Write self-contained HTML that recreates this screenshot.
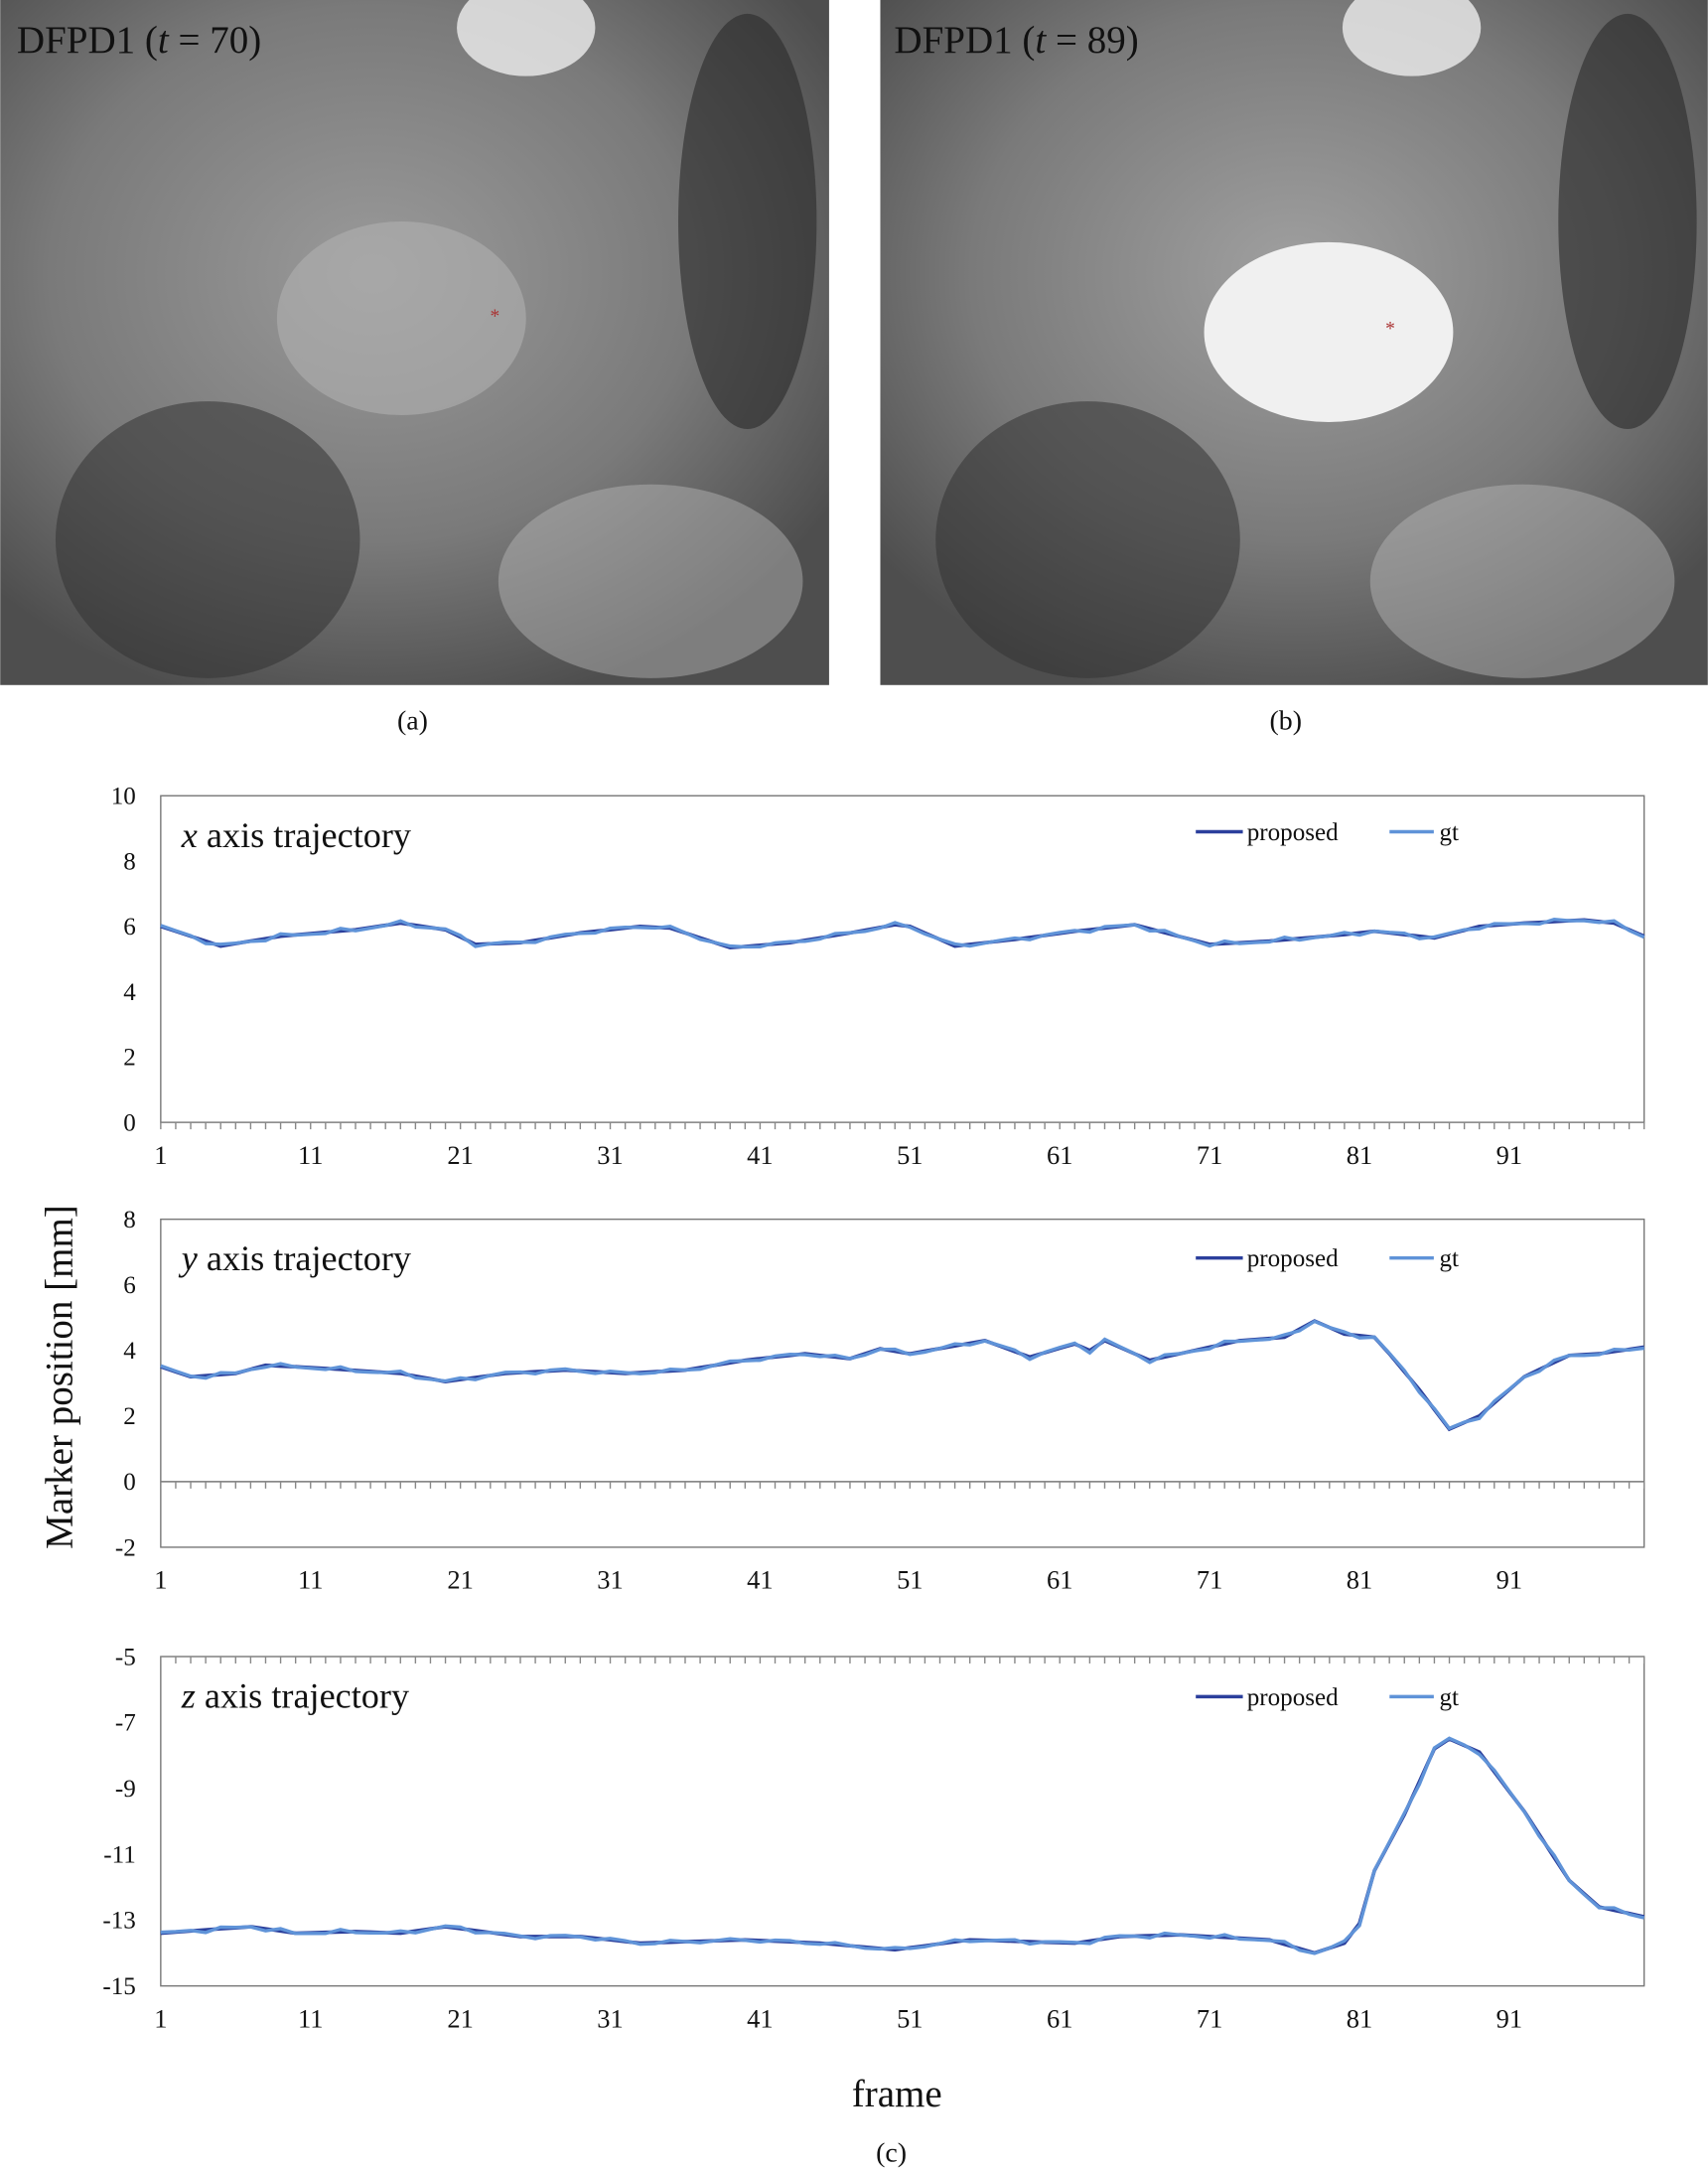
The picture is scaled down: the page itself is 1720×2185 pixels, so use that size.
<!DOCTYPE html>
<html><head><meta charset="utf-8"><style>
html,body{margin:0;padding:0;background:#fff;}
svg{display:block;}
text{font-family:"Liberation Serif",serif;fill:#111;}
</style></head><body>
<svg id="s" width="1720" height="2185" viewBox="0 0 1234 1568" xmlns="http://www.w3.org/2000/svg">
<defs>
<radialGradient id="ga" cx="0.45" cy="0.4" r="0.65"><stop offset="0" stop-color="#9a9a9a"/><stop offset="0.6" stop-color="#7a7a7a"/><stop offset="1" stop-color="#4e4e4e"/></radialGradient>
<radialGradient id="gb" cx="0.5" cy="0.4" r="0.65"><stop offset="0" stop-color="#a0a0a0"/><stop offset="0.6" stop-color="#7a7a7a"/><stop offset="1" stop-color="#4e4e4e"/></radialGradient>
</defs>
<g id="imgs">
<rect x="0" y="0" width="599" height="495" fill="url(#ga)"/>
<ellipse cx="150" cy="390" rx="110" ry="100" fill="#333" opacity="0.55"/>
<ellipse cx="540" cy="160" rx="50" ry="150" fill="#2a2a2a" opacity="0.6"/>
<ellipse cx="290" cy="230" rx="90" ry="70" fill="#b0b0b0" opacity="0.6"/>
<ellipse cx="380" cy="20" rx="50" ry="35" fill="#eee" opacity="0.8"/>
<ellipse cx="470" cy="420" rx="110" ry="70" fill="#bbb" opacity="0.45"/>
<rect x="636" y="0" width="598" height="495" fill="url(#gb)"/>
<ellipse cx="786" cy="390" rx="110" ry="100" fill="#333" opacity="0.55"/>
<ellipse cx="1176" cy="160" rx="50" ry="150" fill="#2a2a2a" opacity="0.6"/>
<ellipse cx="960" cy="240" rx="90" ry="65" fill="#f0f0f0"/>
<ellipse cx="1020" cy="20" rx="50" ry="35" fill="#eee" opacity="0.8"/>
<ellipse cx="1100" cy="420" rx="110" ry="70" fill="#bbb" opacity="0.45"/>
<text x="354" y="233" font-size="14" style="fill:#a33">*</text>
<text x="1001" y="242" font-size="14" style="fill:#a33">*</text>
<text x="12" y="38" font-size="28">DFPD1 (<tspan font-style="italic">t</tspan> = 70)</text>
<text x="646" y="38" font-size="28">DFPD1 (<tspan font-style="italic">t</tspan> = 89)</text>
</g>
<text x="298" y="527" font-size="20" text-anchor="middle">(a)</text>
<text x="929" y="527" font-size="20" text-anchor="middle">(b)</text>
<text transform="translate(52,995) rotate(-90)" font-size="28" text-anchor="middle">Marker position [mm]</text>
<text x="648" y="1522" font-size="28" text-anchor="middle">frame</text>
<text x="644" y="1562" font-size="20" text-anchor="middle">(c)</text>
<g id="charts"></g>
</svg>
<script>
const NS="http://www.w3.org/2000/svg";
const G=document.getElementById('charts');
function el(t,a,txt){const e=document.createElementNS(NS,t);for(const k in a)e.setAttribute(k,a[k]);if(txt!==undefined)e.textContent=txt;G.appendChild(e);return e;}
function interp(k){const o=[];for(let f=1;f<=100;f++){for(let i=0;i<k.length-1;i++){if(f>=k[i][0]&&f<=k[i+1][0]){const t=(f-k[i][0])/(k[i+1][0]-k[i][0]);o.push(k[i][1]+t*(k[i+1][1]-k[i][1]));break;}}}return o;}
const X0=116,X1=1188,fx=f=>X0+(f-1)*(X1-X0)/99;
const charts=[
{top:575,bot:811,min:0,max:10,step:2,lab:'x',legY:601,zero:null,
k:[[1,6],[5,5.4],[9,5.7],[14,5.9],[17,6.1],[20,5.9],[22,5.45],[25,5.5],[29,5.8],[33,6.0],[35,5.95],[39,5.35],[43,5.5],[47,5.8],[50,6.05],[51,6.0],[54,5.4],[58,5.6],[62,5.85],[66,6.05],[71,5.45],[75,5.55],[80,5.75],[82,5.85],[86,5.65],[89,6.0],[92,6.1],[96,6.2],[98,6.1],[100,5.7]]},
{top:881,bot:1118,min:-2,max:8,step:2,lab:'y',legY:909,zero:0,
k:[[1,3.5],[3,3.2],[6,3.3],[8,3.55],[12,3.45],[17,3.3],[20,3.05],[24,3.3],[28,3.4],[32,3.3],[36,3.4],[40,3.7],[44,3.9],[47,3.75],[49,4.05],[51,3.9],[56,4.3],[59,3.8],[62,4.2],[63,4.0],[64,4.3],[67,3.7],[70,4.0],[73,4.3],[76,4.4],[78,4.9],[80,4.5],[82,4.4],[83,3.9],[85,2.8],[87,1.6],[89,2.0],[92,3.2],[95,3.85],[97,3.9],[100,4.1]]},
{top:1197,bot:1435,min:-15,max:-5,step:2,lab:'z',legY:1226,zero:null,
k:[[1,-13.4],[4,-13.3],[7,-13.2],[10,-13.4],[14,-13.35],[17,-13.4],[20,-13.2],[25,-13.5],[29,-13.5],[33,-13.7],[40,-13.6],[45,-13.7],[50,-13.9],[55,-13.6],[62,-13.7],[65,-13.5],[69,-13.45],[75,-13.6],[78,-14.0],[80,-13.7],[81,-13.1],[82,-11.5],[84,-9.8],[86,-7.8],[87,-7.5],[89,-7.9],[92,-9.7],[95,-11.8],[97,-12.6],[100,-12.9]]}
];
charts.forEach(c=>{
 const fy=v=>c.bot-(v-c.min)*(c.bot-c.top)/(c.max-c.min);
 el('rect',{x:X0,y:c.top,width:X1-X0,height:c.bot-c.top,fill:'none',stroke:'#777','stroke-width':1});
 for(let v=c.min;v<=c.max;v+=c.step){el('text',{x:98,y:fy(v)+6,'font-size':18,'text-anchor':'end'},String(v));}
 const ay=c.zero!==null?fy(c.zero):(c.lab==='z'?c.top:c.bot);
 if(c.zero!==null)el('line',{x1:X0,x2:X1,y1:ay,y2:ay,stroke:'#777'});
 for(let f=1;f<=100;f++){const x=fx(f);el('line',{x1:x,x2:x,y1:ay,y2:ay+(c.lab==='z'?-5:5)*(c.lab==='z'?1:-1)*-1,stroke:'#888'});}
 for(let f=1;f<=91;f+=10)el('text',{x:fx(f),y:c.bot+30,'font-size':19,'text-anchor':'middle'},String(f));
 const t=el('text',{x:131,y:c.top+37,'font-size':26});
 const s=document.createElementNS(NS,'tspan');s.setAttribute('font-style','italic');s.textContent=c.lab;t.appendChild(s);t.appendChild(document.createTextNode(' axis trajectory'));
 const p=interp(c.k);
 const g=p.map((v,i)=>v+0.05*Math.sin(i*1.7)+0.03*Math.cos(i*3.1));
 const path=a=>a.map((v,i)=>(i?'L':'M')+fx(i+1).toFixed(1)+','+fy(v).toFixed(1)).join('');
 el('path',{d:path(p),fill:'none',stroke:'#2b3f9c','stroke-width':2.6});
 el('path',{d:path(g),fill:'none',stroke:'#5f93d8','stroke-width':2.4});
 el('line',{x1:864,x2:898,y1:c.legY,y2:c.legY,stroke:'#2b3f9c','stroke-width':2.5});
 el('text',{x:901,y:c.legY+6,'font-size':18},'proposed');
 el('line',{x1:1004,x2:1036,y1:c.legY,y2:c.legY,stroke:'#5f93d8','stroke-width':2.5});
 el('text',{x:1040,y:c.legY+6,'font-size':18},'gt');
});
</script>
</body></html>
